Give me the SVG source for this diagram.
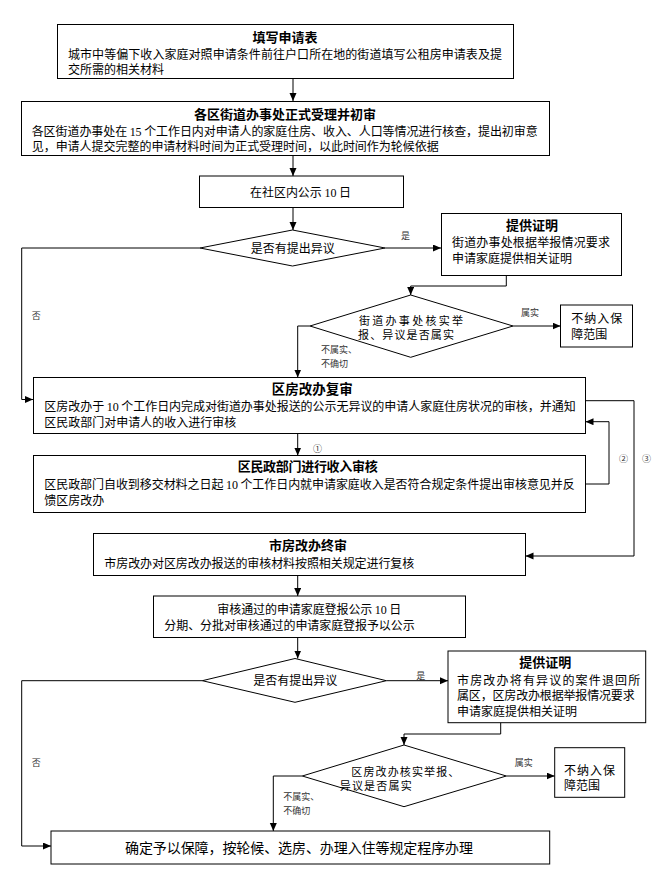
<svg xmlns="http://www.w3.org/2000/svg" width="666" height="880" viewBox="0 0 666 880">
<style>
text{font-family:"Noto Sans CJK SC","Noto Sans",sans-serif;font-size:12px;fill:#000}
.t{font-weight:bold;font-size:13px;text-anchor:middle}
.s{font-size:9px;fill:#333}
.d{font-size:11px}
.n{font-family:"Liberation Serif",serif}
.box{fill:#fff;stroke:#000;stroke-width:1}
.ln{fill:none;stroke:#000;stroke-width:1}
</style>
<defs>
<marker id="ah" markerUnits="userSpaceOnUse" markerWidth="9" markerHeight="8" refX="8" refY="3.5" orient="auto">
<path d="M0,0 L8,3.5 L0,7 z" fill="#000"/>
</marker>
</defs>
<rect width="666" height="880" fill="#fff"/>
<g id="connectors">
<line class="ln" x1="293" y1="78.5" x2="293" y2="101" marker-end="url(#ah)"/>
<line class="ln" x1="293" y1="155.5" x2="293" y2="176" marker-end="url(#ah)"/>
<line class="ln" x1="293" y1="207.5" x2="293" y2="230" marker-end="url(#ah)"/>
<polyline class="ln" points="200,248 21.7,248 21.7,399.5 33,399.5" marker-end="url(#ah)"/>
<line class="ln" x1="385" y1="248" x2="441" y2="248" marker-end="url(#ah)"/>
<polyline class="ln" points="506.3,275.5 506.3,286 410.7,286 410.7,295" marker-end="url(#ah)"/>
<line class="ln" x1="513" y1="326" x2="560.5" y2="326" marker-end="url(#ah)"/>
<polyline class="ln" points="310,326 297.7,326 297.7,377.5" marker-end="url(#ah)"/>
<line class="ln" x1="297.7" y1="433.5" x2="297.7" y2="455.5" marker-end="url(#ah)"/>
<polyline class="ln" points="585.5,484 609,484 609,421.7 585.5,421.7" marker-end="url(#ah)"/>
<polyline class="ln" points="585.5,400.7 634,400.7 634,556 525.5,556" marker-end="url(#ah)"/>
<line class="ln" x1="297.7" y1="575.5" x2="297.7" y2="596" marker-end="url(#ah)"/>
<line class="ln" x1="297.7" y1="637.5" x2="297.7" y2="658.5" marker-end="url(#ah)"/>
<polyline class="ln" points="202.3,680.7 21.7,680.7 21.7,846 51,846" marker-end="url(#ah)"/>
<line class="ln" x1="386.3" y1="680.7" x2="448" y2="680.7" marker-end="url(#ah)"/>
<polyline class="ln" points="500.7,722.7 500.7,734 404,734 404,745" marker-end="url(#ah)"/>
<line class="ln" x1="506.3" y1="776" x2="554.7" y2="776" marker-end="url(#ah)"/>
<polyline class="ln" points="302.3,776 273.3,776 273.3,831" marker-end="url(#ah)"/>
<text class="s" x="401" y="239">是</text>
<text class="s" x="31.7" y="319">否</text>
<text class="s" x="521" y="315.5">属实</text>
<text class="s" x="321" y="353">不属实、</text>
<text class="s" x="321" y="366.5">不确切</text>
<text class="s" x="313" y="452">①</text>
<text class="s" x="619" y="462">②</text>
<text class="s" x="642" y="462">③</text>
<text class="s" x="416.3" y="679">是</text>
<text class="s" x="31.7" y="765.5">否</text>
<text class="s" x="514.7" y="765.5">属实</text>
<text class="s" x="283.3" y="800">不属实、</text>
<text class="s" x="283.3" y="813.5">不确切</text>
</g>
<g id="n1">
<rect class="box" x="57.5" y="24.5" width="456" height="54"/>
<text class="t" x="285" y="41.5">填写申请表</text>
<text x="68" y="58.5" textLength="434">城市中等偏下收入家庭对照申请条件前往户口所在地的街道填写公租房申请表及提</text>
<text x="68" y="74">交所需的相关材料</text>
</g>
<g id="n2">
<rect class="box" x="21.5" y="101.5" width="528" height="54"/>
<text class="t" x="285" y="118.5">各区街道办事处正式受理并初审</text>
<text x="31.7" y="135.5" textLength="506">各区街道办事处在 <tspan class="n">15</tspan> 个工作日内对申请人的家庭住房、收入、人口等情况进行核查，提出初审意</text>
<text x="31.7" y="151" textLength="407">见，申请人提交完整的申请材料时间为正式受理时间，以此时间作为轮候依据</text>
</g>
<g id="n3">
<rect class="box" x="199.5" y="176" width="204" height="31.5"/>
<text x="250" y="197" textLength="101">在社区内公示 <tspan class="n">10</tspan> 日</text>
</g>
<g id="d1">
<polygon class="box" points="292.5,230 385,248 292.5,266 200,248"/>
<text x="250.7" y="253">是否有提出异议</text>
</g>
<g id="n4">
<rect class="box" x="441.5" y="213.5" width="180" height="62"/>
<text class="t" x="532" y="229.5">提供证明</text>
<text x="452" y="247" textLength="158">街道办事处根据举报情况要求</text>
<text x="452" y="262.7">申请家庭提供相关证明</text>
</g>
<g id="d2">
<polygon class="box" points="410.7,295 513,326 410.7,357.3 310,326"/>
<text class="d" x="359" y="324.5" textLength="104">街道办事处核实举</text>
<text class="d" x="358" y="339" textLength="96">报、异议是否属实</text>
</g>
<g id="n5">
<rect class="box" x="560.5" y="305" width="72" height="42"/>
<text x="571.3" y="323" textLength="51">不纳入保</text>
<text x="571.3" y="338.5">障范围</text>
</g>
<g id="n6">
<rect class="box" x="33.5" y="377.5" width="552" height="56"/>
<text class="t" x="312.3" y="393.5" style="font-size:13.5px">区房改办复审</text>
<text x="44.3" y="411" textLength="531.4">区房改办于 <tspan class="n">10</tspan> 个工作日内完成对街道办事处报送的公示无异议的申请人家庭住房状况的审核，并通知</text>
<text x="44.3" y="427">区民政部门对申请人的收入进行审核</text>
</g>
<g id="n7">
<rect class="box" x="33.5" y="455.5" width="552" height="57"/>
<text class="t" x="307.7" y="471" textLength="140">区民政部门进行收入审核</text>
<text x="44.3" y="488.5" textLength="530.4">区民政部门自收到移交材料之日起 <tspan class="n">10</tspan> 个工作日内就申请家庭收入是否符合规定条件提出审核意见并反</text>
<text x="44.3" y="504.5">馈区房改办</text>
</g>
<g id="n8">
<rect class="box" x="93.5" y="533.5" width="432" height="42"/>
<text class="t" x="308" y="550">市房改办终审</text>
<text x="104.3" y="567.5" textLength="310">市房改办对区房改办报送的审核材料按照相关规定进行复核</text>
</g>
<g id="n9">
<rect class="box" x="153.5" y="596" width="312" height="41.5"/>
<text x="217.3" y="614.3" textLength="184">审核通过的申请家庭登报公示 <tspan class="n">10</tspan> 日</text>
<text x="164.3" y="630" textLength="250.4">分期、分批对审核通过的申请家庭登报予以公示</text>
</g>
<g id="d3">
<polygon class="box" points="295,658.5 386.3,680.7 295,702.3 202.3,680.7"/>
<text x="253.3" y="685">是否有提出异议</text>
</g>
<g id="n10">
<rect class="box" x="448" y="651" width="197.7" height="71.7"/>
<text class="t" x="545.3" y="667">提供证明</text>
<text x="457" y="684.5" textLength="183.3">市房改办将有异议的案件退回所</text>
<text x="457" y="700" textLength="177.7">属区，区房改办根据举报情况要求</text>
<text x="457" y="715.5">申请家庭提供相关证明</text>
</g>
<g id="d4">
<polygon class="box" points="404,745 506.3,776 404,806.7 302.3,776"/>
<text class="d" x="351.3" y="775.5" textLength="108">区房改办核实举报、</text>
<text class="d" x="339.7" y="790" textLength="72">异议是否属实</text>
</g>
<g id="n11">
<rect class="box" x="554.7" y="747.7" width="70" height="49.6"/>
<text x="564" y="774.5" textLength="51">不纳入保</text>
<text x="564" y="790">障范围</text>
</g>
<g id="n12">
<rect class="box" x="51" y="831" width="498.7" height="33"/>
<text x="125" y="852.7" style="font-size:14px" textLength="348">确定予以保障，按轮候、选房、办理入住等规定程序办理</text>
</g>
</svg>
